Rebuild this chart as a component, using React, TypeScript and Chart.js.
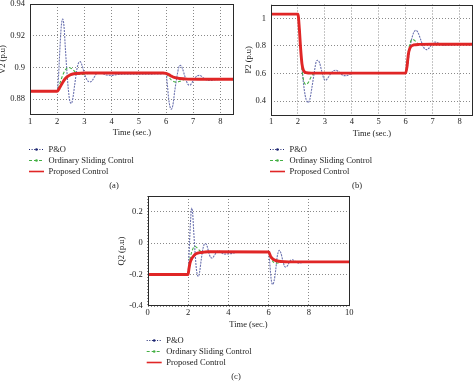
import React, { useEffect, useRef } from 'react';
import { Chart, registerables } from 'chart.js';
Chart.register(...registerables);

type Pt = [number, number];

// ---------- data (time in s, value in p.u.) ----------
const LEGEND_A = ['P&O', 'Ordinary Sliding Control', 'Proposed Control'];
const LEGEND_B = ['P&O', 'Ordinay Sliding Control', 'Proposed Control'];
const LEGEND_C = ['P&O', 'Ordinary Sliding Control', 'Proposed Control'];
const X_TITLE = 'Time (sec.)';

const V2_X_TICKS = [1, 2, 3, 4, 5, 6, 7, 8];
const V2_Y_TICKS = [0.88, 0.9, 0.92, 0.94];
const P2_X_TICKS = [1, 2, 3, 4, 5, 6, 7, 8];
const P2_Y_TICKS = [0.4, 0.6, 0.8, 1];
const Q2_X_TICKS = [0, 2, 4, 6, 8, 10];
const Q2_Y_TICKS = [-0.4, -0.2, 0, 0.2];

const V2_PO: Pt[] = [[1, 0.885], [2.0, 0.885], [2.05, 0.895], [2.1, 0.912], [2.15, 0.926], [2.2, 0.9305], [2.25, 0.926], [2.3, 0.912], [2.38, 0.892], [2.45, 0.88], [2.52, 0.8773], [2.58, 0.881], [2.65, 0.89], [2.75, 0.901], [2.84, 0.9037], [2.92, 0.901], [3.0, 0.896], [3.1, 0.892], [3.2, 0.8908], [3.3, 0.892], [3.4, 0.895], [3.5, 0.8968], [3.6, 0.8968], [3.7, 0.896], [3.8, 0.8952], [4.0, 0.895], [4.2, 0.8955], [4.5, 0.8957], [5.0, 0.8957], [5.5, 0.8958], [6.0, 0.896], [6.05, 0.889], [6.1, 0.88], [6.15, 0.875], [6.19, 0.8736], [6.25, 0.876], [6.32, 0.885], [6.4, 0.894], [6.47, 0.9], [6.53, 0.9013], [6.6, 0.8995], [6.7, 0.894], [6.8, 0.8895], [6.88, 0.8888], [6.96, 0.8905], [7.05, 0.893], [7.15, 0.8948], [7.22, 0.895], [7.3, 0.8945], [7.4, 0.893], [7.5, 0.892], [7.6, 0.8918], [7.8, 0.8922], [8.0, 0.8924], [8.5, 0.8925]];
const V2_OSC: Pt[] = [[1, 0.885], [2.0, 0.885], [2.1, 0.89], [2.2, 0.895], [2.3, 0.8985], [2.43, 0.9], [2.55, 0.899], [2.7, 0.8965], [2.85, 0.8955], [3.0, 0.8958], [3.2, 0.8963], [3.5, 0.8965], [5.9, 0.8965], [6.0, 0.8963], [6.1, 0.894], [6.2, 0.892], [6.3, 0.891], [6.38, 0.8907], [6.5, 0.8912], [6.65, 0.8922], [6.8, 0.8928], [7.0, 0.8927], [7.5, 0.8925], [8.5, 0.8925]];
const V2_PC: Pt[] = [[1, 0.885], [2.0, 0.885], [2.1, 0.8875], [2.2, 0.8905], [2.3, 0.893], [2.4, 0.8945], [2.5, 0.8955], [2.7, 0.8962], [3.0, 0.8965], [5.9, 0.8965], [6.0, 0.8962], [6.1, 0.8955], [6.2, 0.8945], [6.3, 0.8937], [6.5, 0.893], [6.8, 0.8926], [7.2, 0.8925], [8.5, 0.8925]];

const P2_PO: Pt[] = [[1, 1.03], [2.0, 1.03], [2.05, 0.95], [2.1, 0.8], [2.15, 0.65], [2.2, 0.54], [2.27, 0.44], [2.33, 0.4], [2.38, 0.39], [2.45, 0.42], [2.52, 0.5], [2.6, 0.6], [2.67, 0.68], [2.73, 0.696], [2.8, 0.68], [2.88, 0.62], [2.96, 0.565], [3.03, 0.552], [3.1, 0.565], [3.2, 0.595], [3.3, 0.618], [3.41, 0.624], [3.5, 0.615], [3.6, 0.598], [3.7, 0.585], [3.8, 0.585], [3.9, 0.592], [4.0, 0.6], [4.5, 0.602], [6.0, 0.602], [6.05, 0.63], [6.1, 0.7], [6.17, 0.8], [6.25, 0.87], [6.32, 0.905], [6.37, 0.913], [6.45, 0.9], [6.55, 0.85], [6.65, 0.795], [6.77, 0.773], [6.87, 0.785], [6.97, 0.81], [7.09, 0.828], [7.2, 0.822], [7.3, 0.81], [7.4, 0.805], [7.5, 0.807], [8.5, 0.812]];
const P2_OSC: Pt[] = [[1, 1.03], [2.0, 1.03], [2.05, 0.93], [2.1, 0.78], [2.15, 0.64], [2.2, 0.56], [2.3, 0.52], [2.4, 0.54], [2.5, 0.58], [2.6, 0.6], [2.7, 0.603], [6.0, 0.603], [6.05, 0.68], [6.1, 0.76], [6.18, 0.83], [6.25, 0.848], [6.33, 0.84], [6.45, 0.818], [6.6, 0.81], [7.0, 0.812], [8.5, 0.812]];
const P2_PC: Pt[] = [[1, 1.03], [2.0, 1.03], [2.05, 0.93], [2.1, 0.78], [2.15, 0.67], [2.2, 0.625], [2.3, 0.607], [2.5, 0.603], [6.0, 0.603], [6.05, 0.65], [6.1, 0.74], [6.15, 0.78], [6.2, 0.797], [6.3, 0.807], [6.5, 0.811], [7.0, 0.812], [8.5, 0.812]];

const Q2_PO: Pt[] = [[0, -0.2], [2.0, -0.2], [2.04, -0.1], [2.08, 0.02], [2.12, 0.13], [2.18, 0.223], [2.23, 0.19], [2.28, 0.08], [2.35, -0.06], [2.42, -0.17], [2.51, -0.212], [2.58, -0.18], [2.66, -0.1], [2.75, -0.03], [2.82, -0.005], [2.88, -0.004], [2.95, -0.02], [3.05, -0.07], [3.12, -0.09], [3.2, -0.095], [3.3, -0.08], [3.4, -0.06], [3.5, -0.05], [3.6, -0.055], [3.7, -0.065], [3.8, -0.07], [4.0, -0.068], [4.2, -0.065], [4.4, -0.06], [4.6, -0.06], [5.0, -0.058], [6.0, -0.058], [6.05, -0.12], [6.1, -0.2], [6.15, -0.25], [6.2, -0.263], [6.27, -0.24], [6.35, -0.17], [6.42, -0.09], [6.48, -0.055], [6.53, -0.046], [6.6, -0.06], [6.7, -0.11], [6.78, -0.145], [6.86, -0.153], [6.95, -0.14], [7.05, -0.115], [7.12, -0.107], [7.19, -0.106], [7.28, -0.113], [7.4, -0.123], [7.5, -0.127], [7.6, -0.125], [7.8, -0.12], [8.0, -0.118], [10, -0.118]];
const Q2_OSC: Pt[] = [[0, -0.2], [2.0, -0.2], [2.05, -0.15], [2.1, -0.1], [2.2, -0.05], [2.33, -0.02], [2.45, -0.03], [2.6, -0.05], [2.75, -0.06], [3.0, -0.057], [6.0, -0.057], [6.1, -0.09], [6.2, -0.115], [6.33, -0.128], [6.5, -0.125], [6.7, -0.12], [7.0, -0.118], [10, -0.118]];
const Q2_PC: Pt[] = [[0, -0.2], [2.0, -0.2], [2.05, -0.16], [2.1, -0.125], [2.2, -0.095], [2.3, -0.078], [2.4, -0.068], [2.6, -0.06], [2.8, -0.057], [3.0, -0.055], [6.0, -0.056], [6.1, -0.085], [6.2, -0.1], [6.3, -0.108], [6.5, -0.115], [6.8, -0.118], [7.0, -0.119], [10, -0.119]];

// ---------- styles ----------
const FONT = '"Liberation Serif", "Times New Roman", serif';
const FS = 8.5;
const TEXT = '#222222';
const GRID = '#8a8a8a';
const FRAME = '#2a2a2a';
const BLUE = '#6c73b0';
const BLUE_MK = '#1c2470';
const GREEN = '#45b045';
const RED = '#e02626';
const XH = 25;

interface Spec {
  left: number; top: number; w: number; h: number;
  ca: { l: number; t: number; r: number; b: number };
  xMin: number; xMax: number; xTicks: number[];
  yMin: number; yMax: number; yTicks: number[];
  yTitle: string; yTitlePad: number; xTitlePad: number;
  legend: string[]; caption: string; captionX: number;
  po: Pt[]; osc: Pt[]; pc: Pt[];
}

const SPECS: Spec[] = [
  {
    left: -4, top: 0, w: 244, h: 195, ca: { l: 34, t: 4, r: 238, b: 115 },
    xMin: 1, xMax: 8.5, xTicks: V2_X_TICKS, yMin: 0.87, yMax: 0.94, yTicks: V2_Y_TICKS,
    yTitle: 'V2 (p.u)', yTitlePad: 1.4, xTitlePad: 1.9,
    legend: LEGEND_A, caption: '(a)', captionX: 118, po: V2_PO, osc: V2_OSC, pc: V2_PC,
  },
  {
    left: 234, top: 0, w: 240, h: 195, ca: { l: 37, t: 4.5, r: 239, b: 115 },
    xMin: 1, xMax: 8.5, xTicks: P2_X_TICKS, yMin: 0.3, yMax: 1.1, yTicks: P2_Y_TICKS,
    yTitle: 'P2 (p.u)', yTitlePad: 9.9, xTitlePad: 1.6,
    legend: LEGEND_B, caption: '(b)', captionX: 123, po: P2_PO, osc: P2_OSC, pc: P2_PC,
  },
  {
    left: 100, top: 190, w: 255, h: 192, ca: { l: 47.7, t: 6, r: 249.3, b: 116 },
    xMin: 0, xMax: 10, xTicks: Q2_X_TICKS, yMin: -0.4, yMax: 0.3, yTicks: Q2_Y_TICKS,
    yTitle: 'Q2 (p.u)', yTitlePad: 16.6, xTitlePad: 0.9,
    legend: LEGEND_C, caption: '(c)', captionX: 136, po: Q2_PO, osc: Q2_OSC, pc: Q2_PC,
  },
];

const fmt = (v: number) => String(Math.round(v * 1000) / 1000);

function makeDecor(spec: Spec) {
  return {
    id: 'decor',
    afterDraw(chart: any) {
      const ctx = chart.ctx as CanvasRenderingContext2D;
      const ca = chart.chartArea;
      ctx.save();
      ctx.strokeStyle = FRAME;
      ctx.lineWidth = 1;
      ctx.setLineDash([]);
      ctx.strokeRect(Math.round(ca.left) + 0.5, Math.round(ca.top) + 0.5, Math.round(ca.right - ca.left) - 1, Math.round(ca.bottom - ca.top) - 1);

      const rows = [ca.bottom + 34, ca.bottom + 45, ca.bottom + 56];
      const x0 = ca.left - 1;
      const x1 = x0 + 15;
      const styles = [
        { color: BLUE_MK, dash: [1, 1.6], width: 1, mk: BLUE_MK },
        { color: GREEN, dash: [3, 2], width: 1.2, mk: GREEN },
        { color: RED, dash: [] as number[], width: 1.6, mk: '' },
      ];
      ctx.font = `${FS}px ${FONT}`;
      ctx.textBaseline = 'middle';
      for (let i = 0; i < 3; i++) {
        const y = Math.round(rows[i]) + 0.5;
        const s = styles[i];
        ctx.strokeStyle = s.color;
        ctx.lineWidth = s.width;
        ctx.setLineDash(s.dash);
        ctx.beginPath();
        ctx.moveTo(x0, y);
        ctx.lineTo(x1, y);
        ctx.stroke();
        if (s.mk) {
          ctx.fillStyle = s.mk;
          ctx.beginPath();
          ctx.arc((x0 + x1) / 2, y, 1.3, 0, Math.PI * 2);
          ctx.fill();
        }
        ctx.fillStyle = TEXT;
        ctx.textAlign = 'left';
        ctx.fillText(spec.legend[i], ca.left + 18.5, y);
      }
      ctx.textAlign = 'center';
      ctx.fillStyle = TEXT;
      ctx.fillText(spec.caption, spec.captionX, ca.bottom + 71);
      ctx.restore();
    },
  };
}

function makeConfig(spec: Spec): any {
  const font = { family: FONT, size: FS };
  const toXY = (a: Pt[]) => a.map(([x, y]) => ({ x, y }));
  return {
    type: 'line',
    data: {
      datasets: [
        { label: spec.legend[2], data: toXY(spec.pc), borderColor: RED, borderWidth: 2.9, pointRadius: 0, cubicInterpolationMode: 'monotone', order: 0 },
        { label: spec.legend[1], data: toXY(spec.osc), borderColor: GREEN, borderWidth: 1.1, borderDash: [3, 2], pointRadius: 0, cubicInterpolationMode: 'monotone', order: 1 },
        { label: spec.legend[0], data: toXY(spec.po), borderColor: BLUE, borderWidth: 1.1, borderDash: [2, 1], pointRadius: 0, cubicInterpolationMode: 'monotone', order: 2 },
      ],
    },
    options: {
      animation: false,
      responsive: false,
      maintainAspectRatio: false,
      devicePixelRatio: 1,
      events: [],
      layout: {
        padding: { left: 0, top: spec.ca.t, right: spec.w - spec.ca.r, bottom: spec.h - spec.ca.b - XH },
      },
      plugins: { legend: { display: false }, tooltip: { enabled: false }, title: { display: false } },
      scales: {
        x: {
          type: 'linear', min: spec.xMin, max: spec.xMax,
          afterBuildTicks: (s: any) => { s.ticks = spec.xTicks.map((v) => ({ value: v })); },
          afterFit: (s: any) => { s.height = XH; s.paddingLeft = 0; s.paddingRight = 0; },
          grid: { color: GRID, lineWidth: 1, drawTicks: false },
          border: { display: false, dash: [1, 2] },
          ticks: { font, color: TEXT, padding: 1.5, maxRotation: 0, autoSkip: false, callback: (v: number) => fmt(v) },
          title: { display: true, text: X_TITLE, font, color: TEXT, padding: { top: 0, bottom: spec.xTitlePad } },
        },
        y: {
          type: 'linear', min: spec.yMin, max: spec.yMax,
          afterBuildTicks: (s: any) => { s.ticks = spec.yTicks.map((v) => ({ value: v })); },
          afterFit: (s: any) => { s.width = spec.ca.l; s.paddingTop = 0; s.paddingBottom = 0; },
          grid: { color: GRID, lineWidth: 1, drawTicks: false },
          border: { display: false, dash: [1, 2] },
          ticks: { font, color: TEXT, padding: 5, autoSkip: false, callback: (v: number) => fmt(v) },
          title: { display: true, text: spec.yTitle, font, color: TEXT, padding: { top: spec.yTitlePad, bottom: 0 } },
        },
      },
    },
    plugins: [makeDecor(spec)],
  };
}

function Panel({ spec }: { spec: Spec }) {
  const ref = useRef<HTMLCanvasElement>(null);
  useEffect(() => {
    const chart = new Chart(ref.current as HTMLCanvasElement, makeConfig(spec));
    return () => chart.destroy();
  }, [spec]);
  return (
    <canvas
      ref={ref}
      width={spec.w}
      height={spec.h}
      style={{ position: 'absolute', left: spec.left, top: spec.top, width: spec.w, height: spec.h, display: 'block' }}
    />
  );
}

export default function App() {
  return (
    <div style={{ position: 'absolute', left: 0, top: 0, width: 474, height: 382, overflow: 'hidden', background: '#fff' }}>
      {SPECS.map((s, i) => (
        <Panel key={i} spec={s} />
      ))}
    </div>
  );
}
